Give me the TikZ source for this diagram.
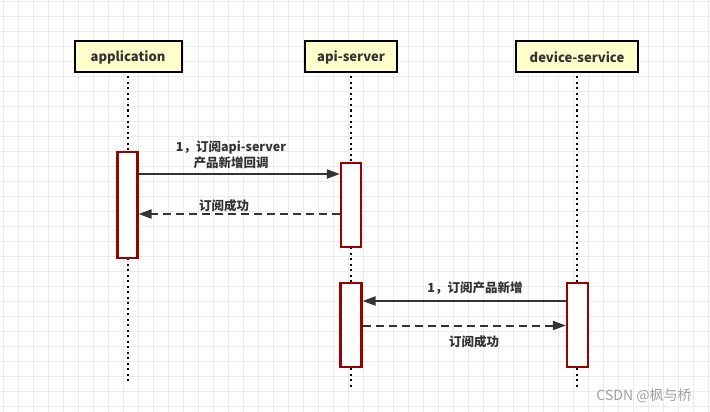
\documentclass[tikz,border=0pt]{standalone}
\usepackage{fontspec}
\setmainfont{Noto Sans CJK SC}
\usetikzlibrary{arrows.meta}
\definecolor{txt}{HTML}{333333}
\definecolor{gridc}{HTML}{EBEBEB}
\definecolor{boxfill}{HTML}{FFFFCC}
\definecolor{actred}{HTML}{990000}
\definecolor{wm}{HTML}{A0A0A0}
\tikzset{
  actor/.style={draw=black, line width=2pt, fill=boxfill, minimum height=31pt, inner sep=0pt, font=\fontsize{13}{15}\selectfont\bfseries, text=txt},
  lifeline/.style={draw=black, line width=2pt, dash pattern=on 2pt off 3.5pt},
  activation/.style={draw=actred, line width=2.2pt, fill=white, minimum width=20pt, minimum height=84pt, inner sep=0pt},
  msg/.style={draw=txt, line width=2pt, -{Triangle[length=13pt,width=9pt]}},
  reply/.style={msg, dash pattern=on 8pt off 5pt},
  lbl/.style={text=txt, font=\fontsize{12.5}{15}\selectfont\bfseries, inner sep=0pt},
  gridline/.style={draw=gridc, line width=0.9pt}
}
\begin{document}
\begin{tikzpicture}[x=1pt,y=-1pt]
\useasboundingbox (0,0) rectangle (710,412);
\fill[white] (0,0) rectangle (710,412);
\foreach \gx in {3,18,...,708} { \draw[gridline] (\gx,0) -- (\gx,412); }
\foreach \gy in {1,16,...,406} { \draw[gridline] (0,\gy) -- (710,\gy); }

% actors
\node[actor, minimum width=107pt] (app) at (128,57) {application};
\node[actor, minimum width=92pt] (api) at (351,57) {api-server};
\node[actor, minimum width=122pt] (dev) at (577,57) {device-service};

% lifeline ends
\coordinate (append) at (128,383);
\coordinate (apiend) at (351,389);
\coordinate (devend) at (577,389);
\draw[lifeline] (app.south) ++(0,3) -- (append);
\draw[lifeline] (api.south) ++(0,3) -- (apiend);
\draw[lifeline] (dev.south) ++(0,3) -- (devend);

% activations
\node[activation, minimum height=106pt] (appact) at (127.5,205) {};
\node[activation] (api1) at (351,205) {};
\node[activation, minimum width=21pt] (api2) at (351,325) {};
\node[activation, minimum width=21pt] (devact) at (577.5,325) {};

% messages
\draw[msg] ([yshift=31pt]appact.east) -- ([yshift=31pt]appact.east -| api1.west);
\node[lbl] (l1) at (231,147) {1，订阅api-server};
\node[lbl] (l2) at (231,163) {产品新增回调};

\draw[reply] ([yshift=-9pt]api1.west) -- ([yshift=-9pt]api1.west -| appact.east);
\node[lbl] (l3) at (224,205.5) {订阅成功};

\draw[msg] ([yshift=24pt]devact.west) -- ([yshift=24pt]devact.west -| api2.east);
\node[lbl] (l4) at (475,288) {1，订阅产品新增};

\draw[reply] ([yshift=-0.5pt]api2.east) -- ([yshift=-0.5pt]api2.east -| devact.west);
\node[lbl] (l5) at (474,341.5) {订阅成功};

% watermark
\node[text=wm, font=\fontsize{14}{16}\selectfont, inner sep=0pt] (wmk) at (644,396) {CSDN @枫与桥};
\end{tikzpicture}
\end{document}
